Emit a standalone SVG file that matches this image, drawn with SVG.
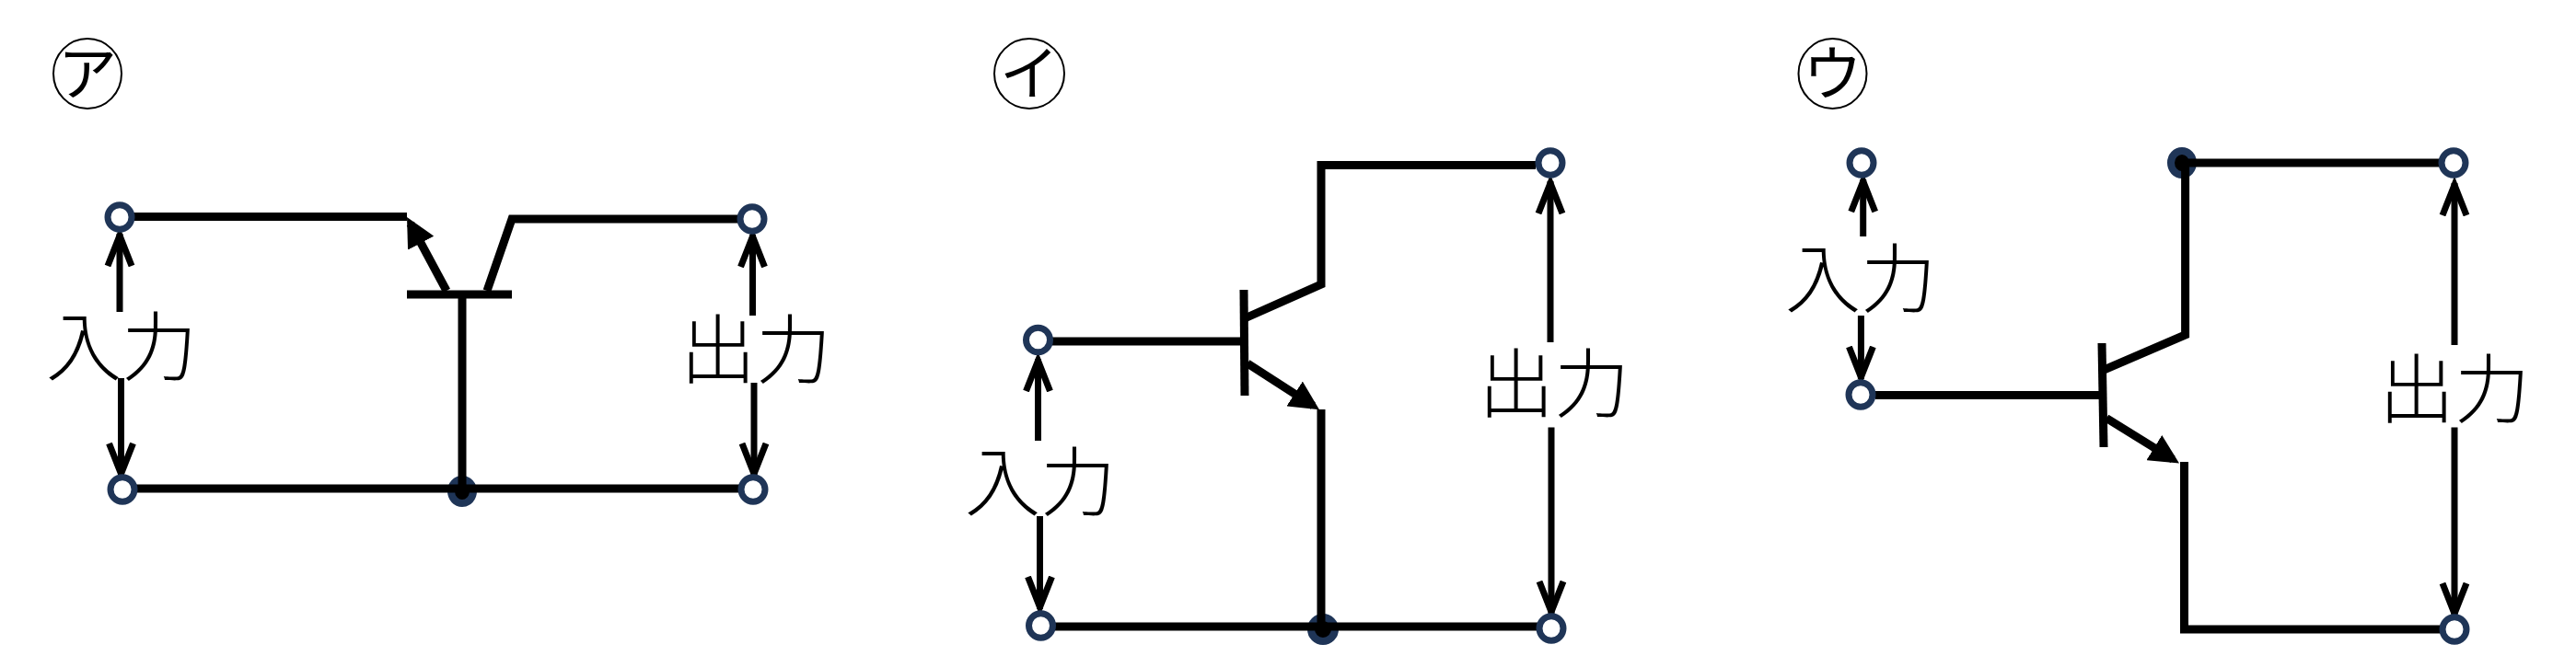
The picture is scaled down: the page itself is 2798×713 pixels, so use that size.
<svg xmlns="http://www.w3.org/2000/svg" width="2798" height="713" viewBox="0 0 2798 713">
<style>
.wire{stroke:#000;stroke-width:9;fill:none;stroke-linecap:butt;stroke-linejoin:miter}
.arr{stroke:#000;stroke-width:7;fill:none}
.open{marker-end:url(#openHead)}
.emit{marker-end:url(#fillHead)}
.term{fill:#fff;stroke:#1f3557;stroke-width:7;rx:13px;ry:13.300px}
.junc{fill:#000;stroke:#1f3557;stroke-width:8}
.badge{fill:#fff;stroke:#000;stroke-width:2}
text{font-family:"Noto Sans CJK JP","Noto Sans CJK SC",sans-serif;fill:#000;text-anchor:middle}
.lab{font-size:82px;font-weight:300}
.kana{font-size:64px;font-weight:400}
</style>
<defs>
<marker id="openHead" markerUnits="userSpaceOnUse" markerWidth="50" markerHeight="50" refX="36" refY="20" orient="auto" viewBox="0 0 50 40">
<path d="M1 7 L34 20 L1 33" fill="none" stroke="#000" stroke-width="7" stroke-linejoin="miter"/>
</marker>
<marker id="fillHead" markerUnits="userSpaceOnUse" markerWidth="44" markerHeight="32" refX="24" refY="16" orient="auto" viewBox="0 0 44 32">
<path d="M0 0 L32 16 L0 32 Z" fill="#000"/>
</marker>
</defs>
<rect width="2798" height="713" fill="#fff"/>

<g id="junctions">
<g id="a-junction"><ellipse class="junc" cx="502" cy="534" rx="12" ry="13"/></g>
<g id="b-junction"><ellipse class="junc" cx="1437" cy="684" rx="13" ry="13"/></g>
<g id="c-junction"><ellipse class="junc" cx="2370" cy="177" rx="12" ry="13"/></g>
</g>

<g id="connectors">
<g id="a-wires">
<path class="wire" d="M145 235.500H442"/>
<line class="wire emit" x1="485" y1="316" x2="445.800" y2="243"/>
<path class="wire" d="M529 316L556 238H803"/>
<path class="wire" d="M442 320H556"/>
<path class="wire" d="M502 324V531"/>
<path class="wire" d="M148 531H803"/>
</g>
<g id="a-arrows">
<line class="arr open" x1="130" y1="339" x2="130" y2="254"/>
<line class="arr open" x1="131.500" y1="411" x2="131.500" y2="517"/>
<line class="arr open" x1="817.500" y1="343" x2="817.500" y2="255"/>
<line class="arr open" x1="819" y1="416" x2="819" y2="517"/>
</g>
<g id="b-wires">
<path class="wire" d="M1668 179.500H1435V309L1352 346"/>
<path class="wire" d="M1351 315L1352 430"/>
<path class="wire" d="M1143 371H1347"/>
<line class="wire emit" x1="1355" y1="395" x2="1426.300" y2="441"/>
<path class="wire" d="M1435 445V681"/>
<path class="wire" d="M1145 681H1671"/>
</g>
<g id="b-arrows">
<line class="arr open" x1="1127.500" y1="479" x2="1127.500" y2="390"/>
<line class="arr open" x1="1129.500" y1="561" x2="1129.500" y2="662"/>
<line class="arr open" x1="1684" y1="372" x2="1684" y2="197"/>
<line class="arr open" x1="1685" y1="464.500" x2="1685" y2="667"/>
</g>
<g id="c-wires">
<path class="wire" d="M2650 177H2373.600V364L2285 402"/>
<path class="wire" d="M2283 373L2285 486"/>
<path class="wire" d="M2037 429.500H2281"/>
<line class="wire emit" x1="2288" y1="454.500" x2="2360.200" y2="499.300"/>
<path class="wire" d="M2372.500 502V684H2653"/>
</g>
<g id="c-arrows">
<line class="arr open" x1="2023.700" y1="257" x2="2023.700" y2="195"/>
<line class="arr open" x1="2021.400" y1="343" x2="2021.400" y2="412"/>
<line class="arr open" x1="2666" y1="375" x2="2666" y2="199"/>
<line class="arr open" x1="2666" y1="464.500" x2="2666" y2="669"/>
</g>
</g>

<g id="panel-a">
<g id="a-badge"><ellipse class="badge" cx="95" cy="80" rx="37" ry="38"/><text class="kana" x="95" y="103">ア</text></g>
<g id="a-in-top"><ellipse class="term" cx="130" cy="236"/></g>
<g id="a-in-bottom"><ellipse class="term" cx="133" cy="532"/></g>
<g id="a-out-top"><ellipse class="term" cx="817" cy="238"/></g>
<g id="a-out-bottom"><ellipse class="term" cx="818" cy="532"/></g>
<g id="a-in-label"><text class="lab" x="132" y="407">入力</text></g>
<g id="a-out-label"><text class="lab" x="821" y="410">出力</text></g>
</g>

<g id="panel-b">
<g id="b-badge"><ellipse class="badge" cx="1118" cy="80" rx="38" ry="38"/><text class="kana" x="1118" y="103">イ</text></g>
<g id="b-in-top"><ellipse class="term" cx="1127.500" cy="369.500"/></g>
<g id="b-in-bottom"><ellipse class="term" cx="1130.500" cy="680"/></g>
<g id="b-out-top"><ellipse class="term" cx="1684" cy="177"/></g>
<g id="b-out-bottom"><ellipse class="term" cx="1685" cy="683"/></g>
<g id="b-in-label"><text class="lab" x="1130" y="554">入力</text></g>
<g id="b-out-label"><text class="lab" x="1688" y="447">出力</text></g>
</g>

<g id="panel-c">
<g id="c-badge"><ellipse class="badge" cx="1990.500" cy="80" rx="37" ry="38"/><text class="kana" x="1990.500" y="103">ウ</text></g>
<g id="c-in-top"><ellipse class="term" cx="2022" cy="177"/></g>
<g id="c-in-bottom"><ellipse class="term" cx="2021" cy="429"/></g>
<g id="c-out-top"><ellipse class="term" cx="2665" cy="177"/></g>
<g id="c-out-bottom"><ellipse class="term" cx="2666" cy="684"/></g>
<g id="c-in-label"><text class="lab" x="2021" y="333">入力</text></g>
<g id="c-out-label"><text class="lab" x="2666" y="453">出力</text></g>
</g>
</svg>
